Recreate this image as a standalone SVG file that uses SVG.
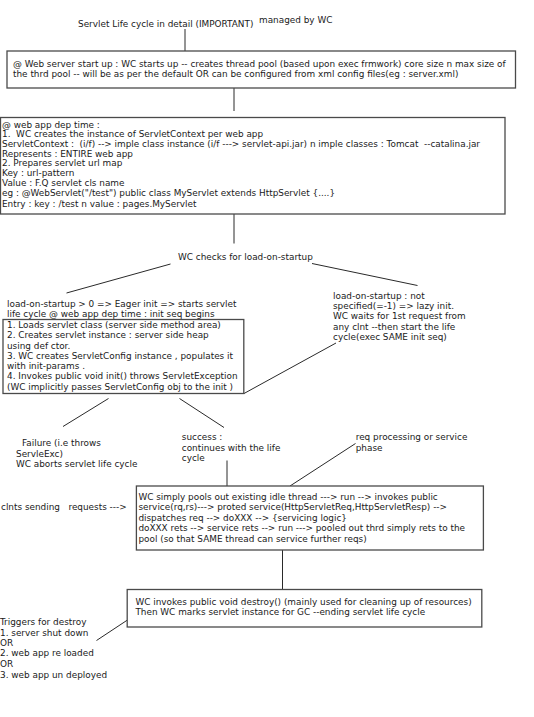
<svg xmlns="http://www.w3.org/2000/svg" width="534" height="717" viewBox="0 0 534 717">
<style>
text{font-family:"DejaVu Sans","Liberation Sans",sans-serif;font-size:8.9px;fill:#1a1a1a;white-space:pre}
.box{fill:#fff;stroke:#4a4a4a;stroke-width:1.3}
.ln{stroke:#2a2a2a;stroke-width:1;fill:none}
</style>
<rect width="534" height="717" fill="#fff"/>
<g id="connectors">
<line class="ln" x1="185" y1="29" x2="185" y2="51"/>
<line class="ln" x1="234" y1="88" x2="234" y2="111"/>
<line class="ln" x1="234" y1="214" x2="234" y2="243.5"/>
<line class="ln" x1="170.5" y1="264" x2="66.5" y2="293"/>
<line class="ln" x1="312" y1="263.5" x2="417.5" y2="285.5"/>
<line class="ln" x1="336" y1="343" x2="244" y2="393.5"/>
<line class="ln" x1="108.5" y1="398.5" x2="63" y2="426.5"/>
<line class="ln" x1="179.5" y1="398.5" x2="224" y2="427.5"/>
<line class="ln" x1="227" y1="460.5" x2="227" y2="486"/>
<line class="ln" x1="355.5" y1="443.5" x2="290" y2="486"/>
<line class="ln" x1="282.5" y1="550" x2="282.5" y2="589.5"/>
<line class="ln" x1="96.5" y1="640.5" x2="127.2" y2="620.2"/>
</g>
<g id="title">
<text x="78" y="27">Servlet Life cycle in detail (IMPORTANT)</text>
<text x="259" y="23">managed by WC</text>
</g>
<g id="server-startup">
<rect class="box" x="7" y="51" width="508.5" height="37"/>
<text x="13" y="67">@ Web server start up : WC starts up -- creates thread pool (based upon exec frmwork) core size n max size of</text>
<text x="13" y="76.5">the thrd pool -- will be as per the default OR can be configured from xml config files(eg : server.xml)</text>
</g>
<g id="app-deploy">
<rect class="box" x="0.5" y="117.5" width="504.5" height="96.5"/>
<text x="2" y="127.5">@ web app dep time :</text>
<text x="2" y="137">1.  WC creates the instance of ServletContext per web app</text>
<text x="2" y="146.5">ServletContext :  (i/f) --&gt; imple class instance (i/f ---&gt; servlet-api.jar) n imple classes : Tomcat  --catalina.jar</text>
<text x="2" y="156.5">Represents : ENTIRE web app</text>
<text x="2" y="166">2. Prepares servlet url map</text>
<text x="2" y="176">Key : url-pattern</text>
<text x="2" y="185.8">Value : F.Q servlet cls name</text>
<text x="2" y="195.7">eg : @WebServlet("/test") public class MyServlet extends HttpServlet {....}</text>
<text x="2" y="206.5">Entry : key : /test n value : pages.MyServlet</text>
</g>
<g id="check-load">
<text x="178" y="260">WC checks for load-on-startup</text>
</g>
<g id="eager-init">
<text x="7" y="306.5">load-on-startup &gt; 0 =&gt; Eager init =&gt; starts servlet</text>
<text x="7" y="316.5">life cycle @ web app dep time : init seq begins</text>
<rect class="box" x="3" y="319.5" width="240.8" height="74"/>
<text x="7" y="328">1. Loads servlet class (server side method area)</text>
<text x="7" y="338.3">2. Creates servlet instance : server side heap</text>
<text x="7" y="348.5">using def ctor.</text>
<text x="7" y="358.8">3. WC creates ServletConfig instance , populates it</text>
<text x="7" y="369">with init-params .</text>
<text x="7" y="379.3">4. Invokes public void init() throws ServletException</text>
<text x="7" y="389.5">(WC implicitly passes ServletConfig obj to the init )</text>
</g>
<g id="lazy-init">
<text x="333" y="299">load-on-startup : not</text>
<text x="333" y="309.2">specified(=-1) =&gt; lazy init.</text>
<text x="333" y="319.4">WC waits for 1st request from</text>
<text x="333" y="329.6">any clnt --then start the life</text>
<text x="333" y="339.8">cycle(exec SAME init seq)</text>
</g>
<g id="failure">
<text x="22" y="446">Failure (i.e throws</text>
<text x="16" y="456.5">ServleExc)</text>
<text x="16" y="467">WC aborts servlet life cycle</text>
</g>
<g id="success">
<text x="181.8" y="440">success :</text>
<text x="181.8" y="450.5">continues with the life</text>
<text x="181.8" y="461">cycle</text>
</g>
<g id="service-phase">
<text x="355.7" y="440">req processing or service</text>
<text x="355.7" y="450.5">phase</text>
</g>
<g id="clients">
<text x="1" y="510">clnts sending   requests ---&gt;</text>
</g>
<g id="service">
<rect class="box" x="136.4" y="486" width="347" height="64"/>
<text x="138.4" y="499.5">WC simply pools out existing idle thread ---&gt; run --&gt; invokes public</text>
<text x="138.4" y="510">service(rq,rs)---&gt; proted service(HttpServletReq,HttpServletResp) --&gt;</text>
<text x="138.4" y="520.5">dispatches req --&gt; doXXX --&gt; {servicing logic}</text>
<text x="138.4" y="531.2">doXXX rets --&gt; service rets --&gt; run ---&gt; pooled out thrd simply rets to the</text>
<text x="138.4" y="542">pool (so that SAME thread can service further reqs)</text>
</g>
<g id="destroy">
<rect class="box" x="127.2" y="589.5" width="354.6" height="37.5"/>
<text x="135.4" y="604.5">WC invokes public void destroy() (mainly used for cleaning up of resources)</text>
<text x="135.4" y="615">Then WC marks servlet instance for GC --ending servlet life cycle</text>
</g>
<g id="triggers">
<text x="0" y="625">Triggers for destroy</text>
<text x="0" y="635.5">1. server shut down</text>
<text x="0" y="646">OR</text>
<text x="0" y="656.3">2. web app re loaded</text>
<text x="0" y="666.7">OR</text>
<text x="0" y="677.5">3. web app un deployed</text>
</g>
</svg>
